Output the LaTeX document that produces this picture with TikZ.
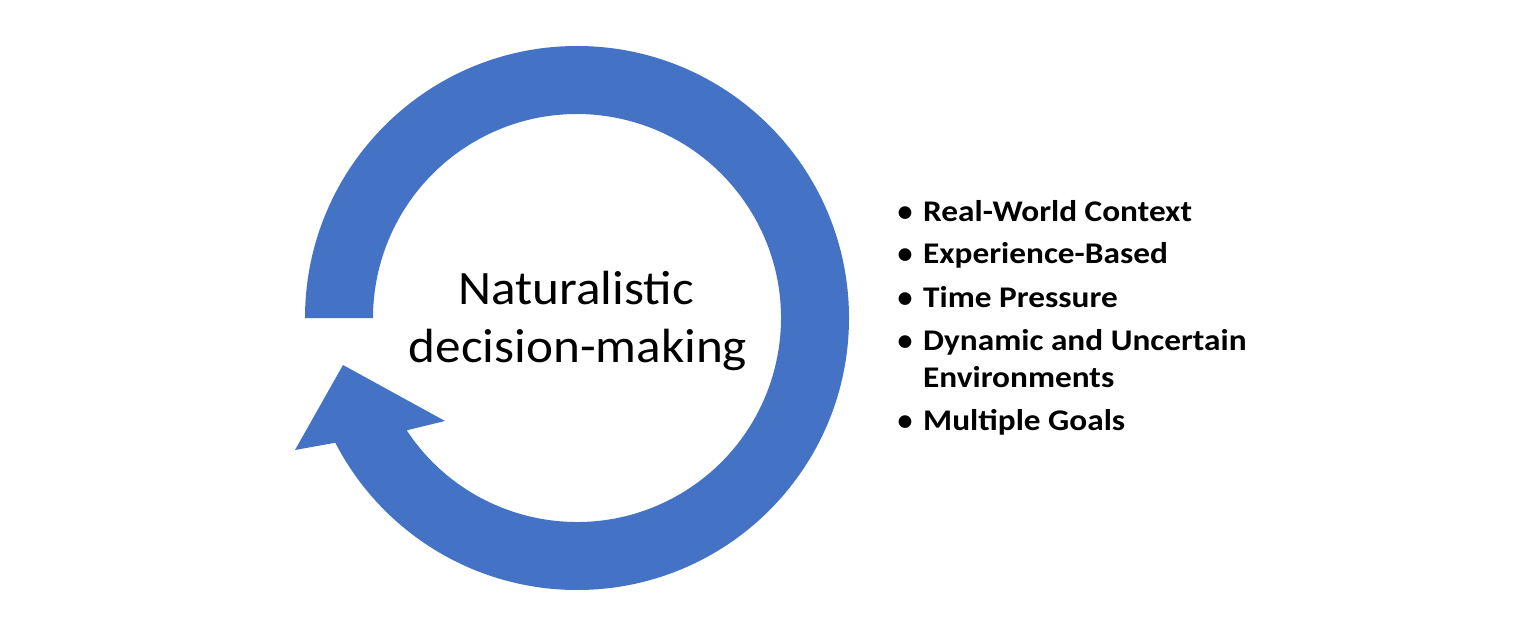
\documentclass[tikz,border=0pt]{standalone}
\usepackage{fontspec}
\setmainfont{Carlito}
\definecolor{ringblue}{HTML}{4472C4}
\newcommand{\widetitle}[1]{\scalebox{1.066}[1]{#1}}
\newcommand{\wideitem}[1]{\scalebox{1.11}[1]{#1}}
\begin{document}
\begin{tikzpicture}[x=1pt,y=1pt,
  ring/.style={fill=ringblue, draw=none},
  titletext/.style={font=\fontsize{48}{57}\selectfont, anchor=base, inner sep=0pt},
  itemtext/.style={font=\fontsize{30}{37}\selectfont\bfseries, anchor=base west, inner sep=0pt},
  bulletdot/.style={font=\fontsize{30}{37}\selectfont\bfseries, anchor=base, inner sep=0pt}]
\useasboundingbox (0,0) rectangle (1536,-636);
\coordinate (C) at (577,-318);
% circular arrow
\fill[ring] (305,-318) arc[start angle=180, end angle=-152.7, radius=272]
  coordinate (co)
  -- (295,-450) coordinate (tip)
  -- (343,-365) coordinate (wingA)
  -- (445,-421) coordinate (wingB)
  -- (406.7,-430.3) coordinate (ci)
  arc[start angle=-146.6, end angle=180, radius=204] -- cycle;
% title
\node[titletext] (t1) at (576,-304.5) {\widetitle{Naturalistic}};
\node[titletext] (t2) at (578,-362) {\widetitle{decision-making}};
% bullet list
\node[bulletdot] (b1) at (905,-222) {\textbullet};
\node[itemtext] (i1) at (923,-222) {\wideitem{Real-World Context}};
\node[bulletdot] (b2) at (905,-264) {\textbullet};
\node[itemtext] (i2) at (923,-264) {\wideitem{Experience-Based}};
\node[bulletdot] (b3) at (905,-307.5) {\textbullet};
\node[itemtext] (i3) at (923,-307.5) {\wideitem{Time Pressure}};
\node[bulletdot] (b4) at (905,-350) {\textbullet};
\node[itemtext] (i4) at (923,-350) {\wideitem{Dynamic and Uncertain}};
\node[itemtext] (i4b) at (923,-387) {\wideitem{Environments}};
\node[bulletdot] (b5) at (905,-430) {\textbullet};
\node[itemtext] (i5) at (923,-430) {\wideitem{Multiple Goals}};
\end{tikzpicture}
\end{document}
